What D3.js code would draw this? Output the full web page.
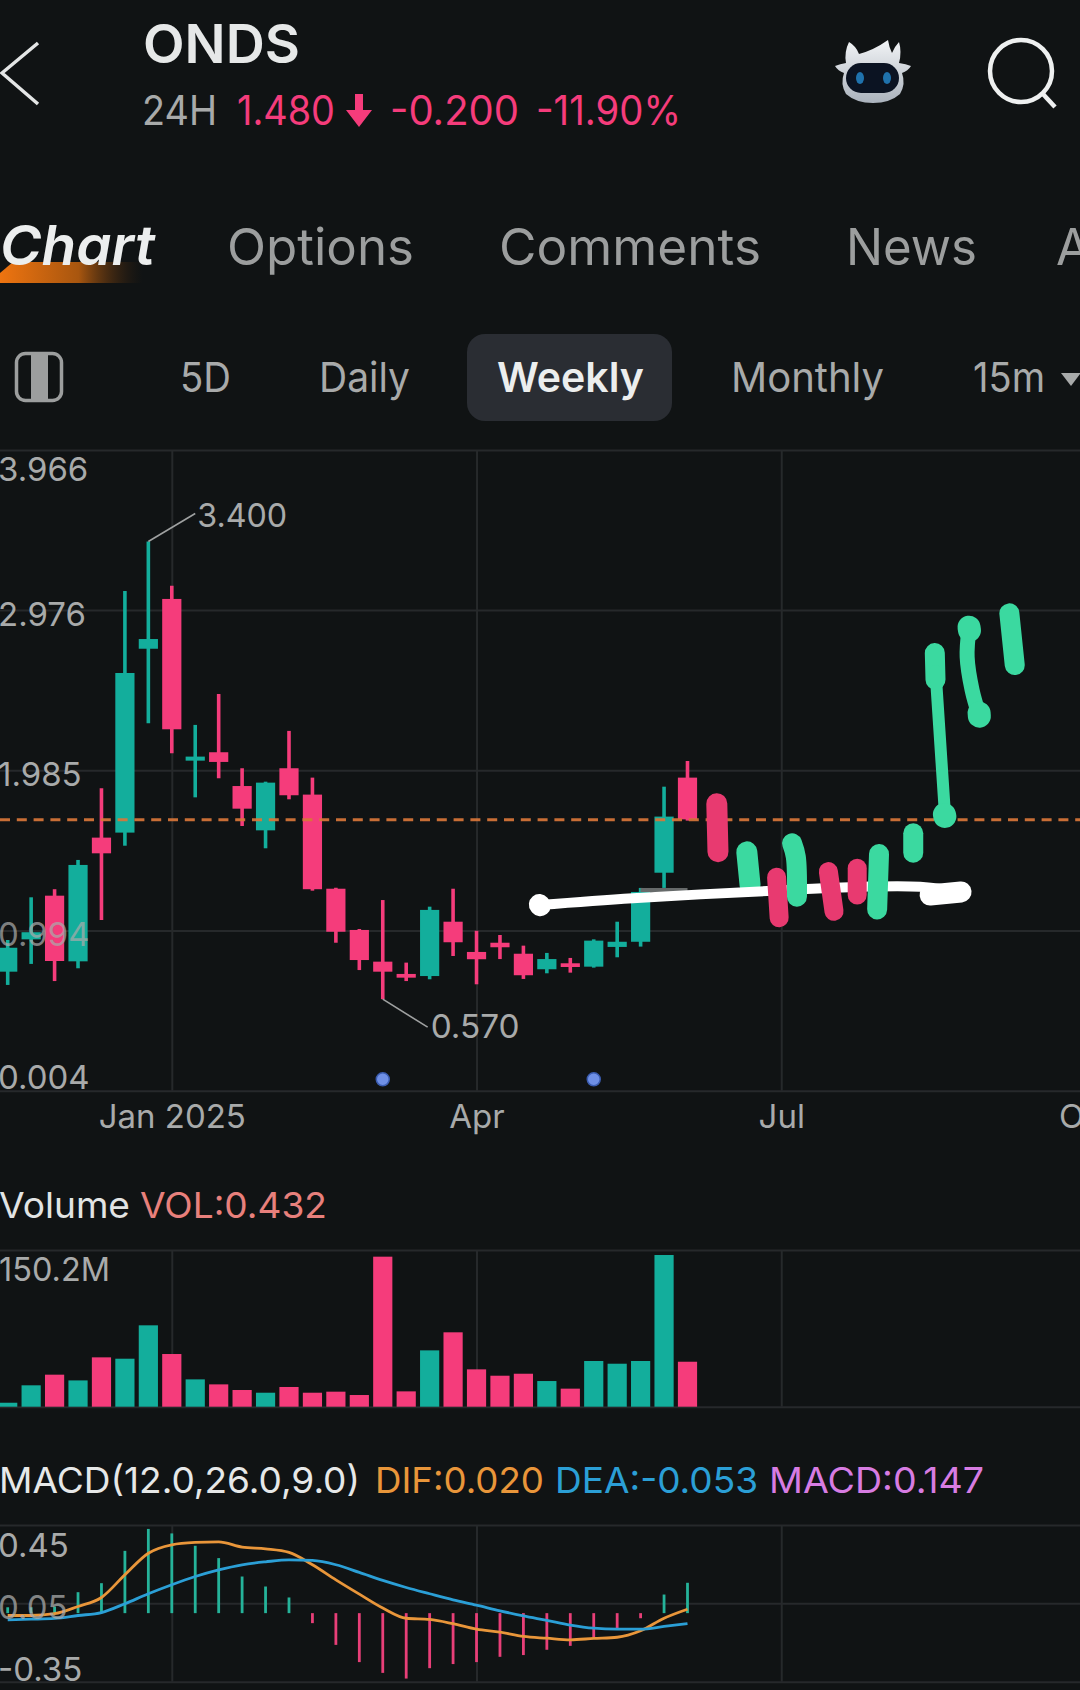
<!DOCTYPE html>
<html>
<head>
<meta charset="utf-8">
<title>ONDS weekly</title>
<script src="https://cdn.jsdelivr.net/npm/d3@7"></script>
<style>
html, body { margin: 0; padding: 0; background: #101314; overflow: hidden; }
svg { display: block; font-family: Inter, "Noto Sans", sans-serif; }
</style>
</head>
<body>
<svg id="chart"></svg>
<script>
// weekly candles
var highs  = [0.936, 1.200, 1.250, 1.431, 1.874, 3.094, 3.400, 3.127, 2.266, 2.457, 1.998, 1.915, 2.229, 1.940, 1.259, 1.004, 1.183, 0.796, 1.142, 1.253, 0.993, 0.967, 0.901, 0.856, 0.825, 0.940, 1.049, 1.258, 1.884, 2.043];
var lows   = [0.658, 0.788, 0.682, 0.761, 1.060, 1.519, 2.276, 2.091, 1.818, 1.936, 1.641, 1.503, 1.806, 1.241, 0.919, 0.750, 0.570, 0.682, 0.693, 0.837, 0.662, 0.818, 0.695, 0.730, 0.734, 0.765, 0.829, 0.895, 1.258, 1.674];
var opens  = [0.740, 0.940, 1.210, 0.804, 1.569, 1.600, 2.737, 3.045, 2.045, 2.097, 1.888, 1.614, 1.998, 1.835, 1.253, 0.998, 0.802, 0.726, 0.713, 1.049, 0.862, 0.919, 0.851, 0.755, 0.792, 0.771, 0.893, 0.925, 1.352, 1.940];
var closes = [0.888, 0.984, 0.806, 1.400, 1.472, 2.587, 2.797, 2.239, 2.070, 2.037, 1.748, 1.909, 1.831, 1.250, 0.987, 0.812, 0.740, 0.703, 1.122, 0.922, 0.817, 0.891, 0.718, 0.818, 0.769, 0.932, 0.925, 1.233, 1.699, 1.682];
var volumes = [3.8, 20.5, 30.7, 25.2, 47.3, 46, 78, 50.5, 26.2, 21.4, 16, 13.4, 18.9, 13.4, 14.4, 11.2, 143.8, 14.7, 54, 71.3, 35.8, 29.7, 31.6, 24.6, 17.3, 43.8, 41.2, 43.8, 145.4, 43.1];
var volumeUp = [1, 1, 0, 1, 0, 1, 1, 0, 1, 0, 0, 1, 0, 0, 0, 0, 0, 0, 1, 0, 0, 0, 0, 1, 0, 1, 1, 1, 1, 0];
var dif  = [-0.012, -0.012, -0.003, 0.034, 0.080, 0.196, 0.306, 0.349, 0.361, 0.364, 0.337, 0.328, 0.310, 0.247, 0.170, 0.097, 0.026, -0.026, -0.032, -0.054, -0.082, -0.097, -0.119, -0.128, -0.136, -0.129, -0.123, -0.090, -0.026, 0.020];
var dea  = [-0.034, -0.031, -0.027, -0.012, 0.003, 0.048, 0.099, 0.145, 0.187, 0.221, 0.247, 0.262, 0.272, 0.269, 0.247, 0.208, 0.167, 0.131, 0.099, 0.068, 0.041, 0.012, -0.014, -0.037, -0.061, -0.077, -0.082, -0.082, -0.068, -0.053];
var hist = [0.030, 0.030, 0.034, 0.107, 0.153, 0.318, 0.430, 0.407, 0.344, 0.281, 0.187, 0.136, 0.080, -0.051, -0.162, -0.250, -0.305, -0.334, -0.281, -0.260, -0.250, -0.223, -0.214, -0.187, -0.167, -0.124, -0.085, -0.026, 0.095, 0.155];

var priceTicks = [3.966, 2.976, 1.985, 0.994, 0.004];
var volumeTicks = [150.2, 0];
var macdTicks = [0.45, 0.05, -0.35];
var monthWeeks = [7, 20, 33, 46];
var monthLabels = ['Jan 2025', 'Apr', 'Jul', 'Oct'];
var prevClose = 1.68;
var dotWeeks = [16, 25];

// hand drawn marks on the screenshot, as [week, price]
var strokesUnder = [
    [[30.25, 1.779], [30.30, 1.482]],
    [[31.53, 1.481], [31.67, 1.274]]
];
var whiteThin = [[22.68, 1.152], [26.67, 1.194], [32.39, 1.239], [36.47, 1.265], [38.92, 1.265], [40.67, 1.233]];
var whiteWide = [
    [[22.68, 1.155], [22.72, 1.148]],
    [[39.35, 1.214], [40.67, 1.233]]
];
var pinkStrokes = [
    [[32.80, 1.324], [32.91, 1.073]],
    [[35.01, 1.359], [35.25, 1.113]],
    [[36.24, 1.380], [36.24, 1.214]]
];
var greenWide = [
    [[33.46, 1.534], [33.62, 1.451], [33.67, 1.204]],
    [[37.17, 1.467], [37.09, 1.125]],
    [[38.63, 1.596], [38.63, 1.476]],
    [[39.55, 2.710], [39.58, 2.545]],
    [[42.73, 2.956], [42.96, 2.636]]
];
var greenMid = [[[41.01, 2.865], [40.93, 2.686], [41.14, 2.482], [41.44, 2.327]]];
var greenThin = [[[39.58, 2.600], [39.98, 1.720]]];
var greenBlobs = [
    [[39.96, 1.712], [39.98, 1.700]],
    [[41.01, 2.870], [41.03, 2.850]],
    [[41.44, 2.340], [41.45, 2.320]]
];

var W = 1080, H = 1690;
var GREEN = '#13ae9c', PINK = '#f53c7b', GRID = '#26292b', LABEL = '#a8aaaa';
var PEN_GREEN = '#3bd9a0', PEN_PINK = '#e83a70';

var svg = d3.select('#chart').attr('width', W).attr('height', H).attr('viewBox', '0 0 ' + W + ' ' + H);
var defs = svg.append('defs');
var tabGrad = defs.append('linearGradient').attr('id', 'tabGrad');
tabGrad.append('stop').attr('offset', '0').attr('stop-color', '#ee7410');
tabGrad.append('stop').attr('offset', '0.55').attr('stop-color', '#a8560f');
tabGrad.append('stop').attr('offset', '1').attr('stop-color', '#3a2410').attr('stop-opacity', 0);
var botGrad = defs.append('linearGradient').attr('id', 'botGrad').attr('x1', 0).attr('y1', 0).attr('x2', 0).attr('y2', 1);
botGrad.append('stop').attr('offset', '0').attr('stop-color', '#f2f4f6');
botGrad.append('stop').attr('offset', '1').attr('stop-color', '#aab2bc');

var x = d3.scaleLinear().domain([0, 46]).range([7.7, 1086]);
var y = d3.scaleLinear().domain([0.004, 3.966]).range([1090.7, 450]);
var yVol = d3.scaleLinear().domain([0, 150.2]).range([1406.7, 1250]);
var yMacd = d3.scaleLinear().domain([-0.35, 0.45]).range([1681.7, 1525]);
var weeks = d3.range(highs.length);

function write(str, left, base, size, fill, width, weight, style) {
    return svg.append('text').text(str).attr('x', left).attr('y', base)
        .attr('font-size', size).attr('fill', fill)
        .attr('font-weight', weight || 400).attr('font-style', style || 'normal')
        .attr('textLength', width).attr('lengthAdjust', 'spacingAndGlyphs');
}

// header
svg.append('path').attr('d', 'M38 43 L2 73 L38 104').attr('fill', 'none').attr('stroke', '#e4e6e6').attr('stroke-width', 3.5);
write('ONDS', 143, 63, 54, '#e6e8e8', 157, 600);
write('24H', 142, 125, 41, LABEL, 75);
write('1.480', 237, 125, 41, PINK, 98);
svg.append('path').attr('d', 'M355 94 H363 V110 H372 L359 127 L346 110 H355 Z').attr('fill', PINK);
write('-0.200', 390, 125, 41, PINK, 129);
write('-11.90%', 536, 125, 41, PINK, 145);

// robot
svg.append('path').attr('d', 'M846 63 Q844 52 849 42 Q856 46 859 54 Q874 50 888 40 Q889 47 892 53 Q895 46 899 42 Q902 52 899 63 Q906 64 911 66 Q908 71 902 73 Q906 84 900 94 Q890 103 873 103 Q856 103 846 94 Q840 84 844 73 Q838 71 835 66 Q840 64 846 63 Z').attr('fill', 'url(#botGrad)');
svg.append('rect').attr('x', 846).attr('y', 63).attr('width', 53).attr('height', 30).attr('rx', 15).attr('fill', '#0b1322');
svg.append('ellipse').attr('cx', 860).attr('cy', 78).attr('rx', 4).attr('ry', 6).attr('fill', '#1f72ad');
svg.append('ellipse').attr('cx', 887).attr('cy', 78).attr('rx', 4).attr('ry', 6).attr('fill', '#1f72ad');

// search
svg.append('ellipse').attr('cx', 1021).attr('cy', 71).attr('rx', 31).attr('ry', 31).attr('fill', 'none').attr('stroke', '#eef0f0').attr('stroke-width', 4.5);
svg.append('path').attr('d', 'M1042 93 L1055 107').attr('stroke', '#eef0f0').attr('stroke-width', 4.5);

// tabs
svg.append('path').attr('d', 'M13 262 H143 V283 H0 V273 Z').attr('fill', 'url(#tabGrad)');
write('Chart', 0, 265, 55, '#eceeee', 155, 600, 'italic');
write('Options', 227, 265, 51, '#9c9e9e', 187);
write('Comments', 499, 265, 51, '#9c9e9e', 262);
write('News', 846, 265, 51, '#9c9e9e', 131);
write('A', 1056, 265, 51, '#9c9e9e', 34);

// period row
svg.append('rect').attr('x', 16.5).attr('y', 353.5).attr('width', 45).attr('height', 47).attr('rx', 9).attr('fill', 'none').attr('stroke', '#9c9e9e').attr('stroke-width', 3.5);
svg.append('rect').attr('x', 31).attr('y', 353).attr('width', 17).attr('height', 48).attr('fill', '#9c9e9e');
svg.append('rect').attr('x', 467).attr('y', 334).attr('width', 205).attr('height', 87).attr('rx', 18).attr('fill', '#2a2d33');
write('5D', 180, 392, 41, LABEL, 51);
write('Daily', 319, 392, 41, LABEL, 91);
write('Weekly', 497, 392, 41, '#eceeee', 147, 600);
write('Monthly', 731, 392, 41, LABEL, 153);
write('15m', 973, 392, 41, LABEL, 72);
svg.append('path').attr('d', 'M1061 373 H1080 V374 L1071 386 Z').attr('fill', LABEL);

// pane grids
function gridLines(scale, ticks) {
    var g = svg.append('g').call(d3.axisRight(scale).tickValues(ticks).tickSize(W).tickFormat(''));
    g.select('.domain').remove();
    g.selectAll('line').attr('stroke', GRID).attr('stroke-width', 2);
}
function monthLines(top, bottom) {
    var g = svg.append('g').attr('transform', 'translate(0,' + bottom + ')')
        .call(d3.axisBottom(x).tickValues(monthWeeks).tickSize(top - bottom).tickFormat(''));
    g.select('.domain').remove();
    g.selectAll('line').attr('stroke', GRID).attr('stroke-width', 2);
}
gridLines(y, priceTicks);
monthLines(450, 1090.7);
gridLines(yVol, volumeTicks);
monthLines(1250, 1406.7);
gridLines(yMacd, macdTicks);
monthLines(1525, 1681.7);

// candles
function candleColor(i) { return closes[i] > opens[i] ? GREEN : PINK; }
svg.append('g').selectAll('line').data(weeks).enter().append('line')
    .attr('x1', function (d) { return x(d); }).attr('x2', function (d) { return x(d); })
    .attr('y1', function (d) { return y(highs[d]); }).attr('y2', function (d) { return y(lows[d]); })
    .attr('stroke', candleColor).attr('stroke-width', 3.6);
svg.append('g').selectAll('rect').data(weeks).enter().append('rect')
    .attr('x', function (d) { return x(d) - 9.6; }).attr('width', 19.2)
    .attr('y', function (d) { return y(Math.max(opens[d], closes[d])); })
    .attr('height', function (d) { return Math.abs(y(opens[d]) - y(closes[d])); })
    .attr('fill', candleColor);

// previous close
svg.append('line').attr('x1', 0).attr('x2', W).attr('y1', y(prevClose)).attr('y2', y(prevClose))
    .attr('stroke', '#d8763a').attr('stroke-width', 3).attr('stroke-dasharray', '10 6.8').attr('stroke-opacity', 0.92);

// grey price tag behind the white line
svg.append('line').attr('x1', x(27)).attr('x2', x(29)).attr('y1', y(1.245)).attr('y2', y(1.245))
    .attr('stroke', '#666a6a').attr('stroke-width', 4);

// hand drawn strokes
var pen = d3.line().x(function (d) { return x(d[0]); }).y(function (d) { return y(d[1]); }).curve(d3.curveCatmullRom);
function drawStrokes(list, color, width) {
    svg.append('g').selectAll('path').data(list).enter().append('path')
        .attr('d', pen).attr('fill', 'none').attr('stroke', color)
        .attr('stroke-width', width).attr('stroke-linecap', 'round').attr('stroke-linejoin', 'round');
}
drawStrokes([strokesUnder[0]], PEN_PINK, 21);
drawStrokes([strokesUnder[1]], PEN_GREEN, 21);
drawStrokes([whiteThin], '#ffffff', 10);
drawStrokes(whiteWide, '#ffffff', 21);
drawStrokes(pinkStrokes, PEN_PINK, 19);
drawStrokes(greenWide, PEN_GREEN, 20);
drawStrokes(greenMid, PEN_GREEN, 15);
drawStrokes(greenThin, PEN_GREEN, 12);
drawStrokes(greenBlobs, PEN_GREEN, 23);

// event dots
svg.append('g').selectAll('circle').data(dotWeeks).enter().append('circle')
    .attr('cx', function (d) { return x(d); }).attr('cy', 1079.3).attr('r', 6.5)
    .attr('fill', '#6f90e6').attr('stroke', '#3a5cb0').attr('stroke-width', 1.5);

// price axis labels
var priceAxis = svg.append('g').call(d3.axisRight(y).tickValues(priceTicks).tickSize(0).tickFormat(d3.format('.3f')));
priceAxis.select('.domain').remove();
priceAxis.selectAll('text').attr('x', -2).attr('dy', null).attr('y', function (d, i) { return i === 0 ? 30 : i === 4 ? -2 : 15; })
    .attr('font-family', 'Inter').attr('font-size', 33).attr('fill', LABEL)
    .attr('fill-opacity', function (d) { return d === 0.994 ? 0.72 : 1; });

var monthAxis = svg.append('g').attr('transform', 'translate(0,1090.7)')
    .call(d3.axisBottom(x).tickValues(monthWeeks).tickSize(0).tickFormat(function (d, i) { return monthLabels[i]; }));
monthAxis.select('.domain').remove();
monthAxis.selectAll('text').attr('y', 37).attr('dy', null).attr('font-family', 'Inter').attr('font-size', 33).attr('fill', LABEL);

// high and low callouts
svg.append('path').attr('d', d3.line()([[x(6), y(3.4)], [x(8), y(3.4) - 28]])).attr('fill', 'none').attr('stroke', '#9fa1a1').attr('stroke-width', 1.6);
write('3.400', x(8) + 2, 527, 33, LABEL, 90);
svg.append('path').attr('d', d3.line()([[x(16), y(0.57)], [x(18) - 2, y(0.57) + 28]])).attr('fill', 'none').attr('stroke', '#9fa1a1').attr('stroke-width', 1.6);
write('0.570', x(18) + 1, 1038, 33, LABEL, 89);

// volume
write('Volume', -1, 1218, 36, '#e2e4e4', 131);
write('VOL:0.432', 140, 1218, 36, '#e8807c', 187);
svg.append('g').selectAll('rect').data(weeks).enter().append('rect')
    .attr('x', function (d) { return x(d) - 9.6; }).attr('width', 19.2)
    .attr('y', function (d) { return yVol(volumes[d]); })
    .attr('height', function (d) { return yVol(0) - yVol(volumes[d]); })
    .attr('fill', function (d) { return volumeUp[d] ? GREEN : PINK; });
write('150.2M', -1, 1281, 33, LABEL, 111);

// macd
write('MACD(12.0,26.0,9.0)', -1, 1493, 36, '#e6e8e8', 361);
write('DIF:0.020', 375, 1493, 36, '#e9963a', 169);
write('DEA:-0.053', 555, 1493, 36, '#2b9fd6', 203);
write('MACD:0.147', 769, 1493, 36, '#d77ce2', 215);
svg.append('g').selectAll('line').data(weeks).enter().append('line')
    .attr('x1', function (d) { return x(d); }).attr('x2', function (d) { return x(d); })
    .attr('y1', yMacd(0)).attr('y2', function (d) { return yMacd(hist[d]); })
    .attr('stroke', function (d) { return hist[d] >= 0 ? '#25b39a' : '#e83f78'; }).attr('stroke-width', 2.8);
function macdPath(values, color) {
    svg.append('path').datum(values)
        .attr('d', d3.line().x(function (d, i) { return x(i); }).y(function (d) { return yMacd(d); }).curve(d3.curveMonotoneX))
        .attr('fill', 'none').attr('stroke', color).attr('stroke-width', 2.8);
}
macdPath(dif, '#e9963a');
macdPath(dea, '#2b9fd6');
var macdAxis = svg.append('g').call(d3.axisRight(yMacd).tickValues(macdTicks).tickSize(0).tickFormat(function (d) { return d; }));
macdAxis.select('.domain').remove();
macdAxis.selectAll('text').attr('x', -2).attr('dy', null).attr('y', function (d, i) { return i === 0 ? 31 : i === 2 ? -1 : 15; })
    .attr('font-family', 'Inter').attr('font-size', 33).attr('fill', LABEL)
    .attr('fill-opacity', function (d, i) { return i === 1 ? 0.75 : 1; });
</script>
</body>
</html>
